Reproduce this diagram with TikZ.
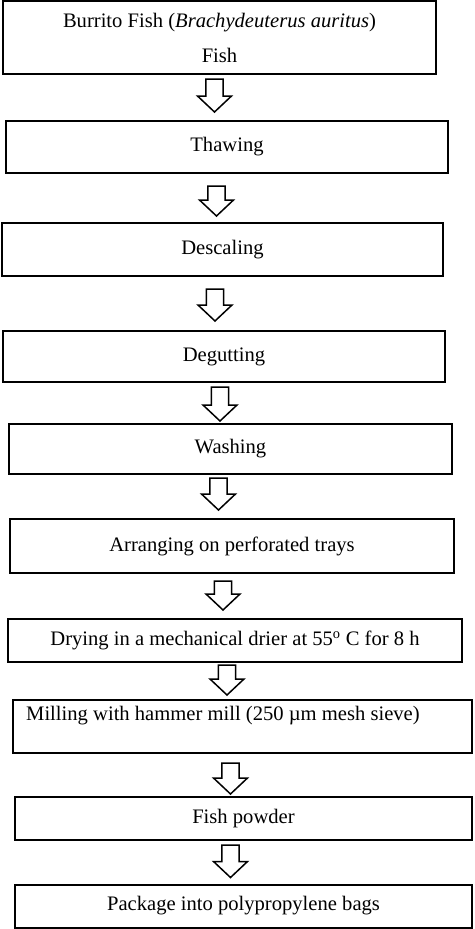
\documentclass[tikz,border=0pt]{standalone}
\usepackage{fontspec}
\setmainfont{Liberation Serif}
\usetikzlibrary{calc}

% hollow block arrow between two boxes: upper, lower, x shift, gap above, gap below
\newcommand{\flowarrow}[5]{%
  \draw[hollow] let \p1=($(#1.south)+(#3,#4)$), \p2=($(#2.north)+(0,-#5)$) in
    (\x1-8.7pt,\y1) -- (\x1+8.7pt,\y1) -- (\x1+8.7pt,\y2+16pt) -- (\x1+17pt,\y2+16pt)
    -- (\x1,\y2) -- (\x1-17pt,\y2+16pt) -- (\x1-8.7pt,\y2+16pt) -- cycle;
}

\begin{document}
\begin{tikzpicture}[
    x=1pt, y=-1pt,
    procbox/.style={rectangle, draw=black, line width=2pt, inner sep=0pt, align=center,
                    font=\fontsize{20.6}{24}\selectfont},
    hollow/.style={draw=black, line width=1.5pt, fill=white, line join=miter}
]
    \useasboundingbox (0,0) rectangle (474,929);

    \node[procbox, minimum width=433pt, minimum height=73pt, font=\fontsize{20.6}{35}\selectfont] (fish) at (219.5,37.5)
        {Burrito Fish (\textit{Brachydeuterus auritus})\\Fish};
    \node[procbox, minimum width=442pt, minimum height=52pt] (thaw) at (227,147) {Thawing};
    \node[procbox, minimum width=441pt, minimum height=53pt] (descale) at (222.5,249.5) {Descaling};
    \node[procbox, minimum width=442pt, minimum height=51pt] (degut) at (224,356.5) {Degutting};
    \node[procbox, minimum width=443pt, minimum height=50pt] (wash) at (230.5,449) {Washing};
    \node[procbox, minimum width=444pt, minimum height=54pt] (arrange) at (232,546) {Arranging on perforated trays};
    \node[procbox, minimum width=454pt, minimum height=43pt] (dry) at (235,640.5)
        {Drying in a mechanical drier at 55\textsuperscript{o} C for 8 h};
    \node[procbox, minimum width=459pt, minimum height=53pt] (mill) at (242.5,726.5) {};
    \node[font=\fontsize{20.6}{24}\selectfont, inner sep=0pt, anchor=base west] (milltext)
        at ($(mill.north west)+(14,21)$) {Milling with hammer mill (250 µm mesh sieve)};
    \node[procbox, minimum width=457pt, minimum height=43pt] (powder) at (243.5,818.5) {Fish powder};
    \node[procbox, minimum width=457pt, minimum height=43pt] (pack) at (243.5,906) {Package into polypropylene bags};

    \flowarrow{fish}{thaw}{-5}{4}{8}
    \flowarrow{thaw}{descale}{-10.5}{12}{6}
    \flowarrow{descale}{degut}{-7.5}{12}{9}
    \flowarrow{degut}{wash}{-4}{4}{2}
    \flowarrow{wash}{arrange}{-12}{3}{8}
    \flowarrow{arrange}{dry}{-9}{7}{8}
    \flowarrow{dry}{mill}{-8}{2}{4}
    \flowarrow{mill}{powder}{-12}{9}{2}
    \flowarrow{powder}{pack}{-13}{4}{6}
\end{tikzpicture}
\end{document}
